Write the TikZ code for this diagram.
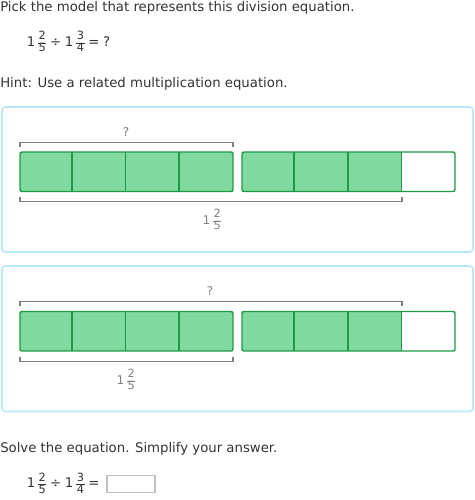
\documentclass[tikz,border=0pt]{standalone}
\usepackage{fontspec}
\setmainfont{DejaVu Sans}
\definecolor{txt}{HTML}{333333}
\definecolor{barfill}{HTML}{80DAA0}
\definecolor{barline}{HTML}{1E9A46}
\definecolor{brk}{HTML}{808080}
\definecolor{panel}{HTML}{B8E6FA}
\newcommand\fr[2]{\ensuremath{\vcenter{\hbox{\fontsize{8.5}{8.5}\selectfont\renewcommand\arraystretch{0.85}\setlength\tabcolsep{0.5pt}\begin{tabular}{c}#1\\\hline #2\end{tabular}}}}}
\newcommand\gap{\hspace{2.8pt}}
\begin{document}
\begin{tikzpicture}[x=0.75pt,y=-0.75pt,
  txtstyle/.style={inner sep=0pt,text=txt,font=\fontsize{9.95}{12}\selectfont},
  lbl/.style={inner sep=0pt,text=brk,font=\fontsize{9}{11}\selectfont},
  panelbox/.style={draw=panel,line width=1.2pt,rounded corners=2.5pt},
  barbox/.style={draw=barline,line width=1.1pt,rounded corners=1.5pt},
  divline/.style={draw=barline,line width=1.1pt},
  bracket/.style={draw=brk,line width=1.1pt}]
\useasboundingbox (0,0) rectangle (475,500);
% header text
\node[txtstyle,anchor=base west] (t1) at (0,11) {Pick the model that represents this division equation.};
\node[txtstyle,anchor=west] (e1) at (26.5,43) {1\hspace{2pt}\fr{2}{5}\gap÷\gap1\hspace{2pt}\fr{3}{4}\gap=\gap?};
\node[txtstyle,anchor=base west] (t2) at (0,87) {Hint: Use a related multiplication equation.};
% panels
\draw[panelbox] (2,107) rectangle (473,252);
\draw[panelbox] (2,266) rectangle (473,411.5);
\foreach \y in {152,311.5}{
  \fill[barfill] (20,\y) rectangle (233,\y+39.5);
  \fill[barfill] (242,\y) rectangle (401.7,\y+39.5);
  \fill[white] (401.7,\y) rectangle (455,\y+39.5);
  \foreach \x in {72,125.5,179}{\draw[divline] (\x,\y) -- (\x,\y+39.5);}
  \foreach \x in {294,348,401.7}{\draw[divline] (\x,\y) -- (\x,\y+39.5);}
  \draw[barbox] (20,\y) rectangle (233,\y+39.5);
  \draw[barbox] (242,\y) rectangle (455,\y+39.5);
}
% brackets panel 1
\draw[bracket] (20,147) -- (20,142.7) -- (233,142.7) -- (233,147);
\node[lbl] (q1) at (126,132) {?};
\draw[bracket] (20,197.3) -- (20,201.7) -- (402,201.7) -- (402,197.3);
\node[lbl] (f1) at (212,221) {1\hspace{2pt}\fr{2}{5}};
% brackets panel 2
\draw[bracket] (20,306) -- (20,301.7) -- (402,301.7) -- (402,306);
\node[lbl] (q2) at (210,291.5) {?};
\draw[bracket] (20,357.3) -- (20,361.7) -- (233,361.7) -- (233,357.3);
\node[lbl] (f2) at (126,381) {1\hspace{2pt}\fr{2}{5}};
% bottom
\node[txtstyle,anchor=base west] (t3) at (0,452) {Solve the equation. Simplify your answer.};
\node[txtstyle,anchor=west] (e2) at (26.5,484.5) {1\hspace{2pt}\fr{2}{5}\gap÷\gap1\hspace{2pt}\fr{3}{4}\gap=};
\draw[draw=black!25,line width=0.8pt] (107,475.7) rectangle (155,492.7);
\end{tikzpicture}
\end{document}
